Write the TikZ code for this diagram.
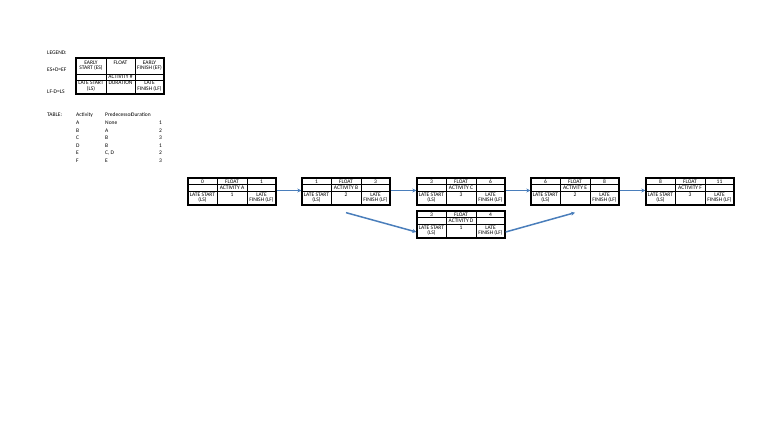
\documentclass[tikz,border=0pt]{standalone}
\usepackage{fontspec}
\setmainfont{Carlito}
\usetikzlibrary{arrows.meta,calc}
\definecolor{linkc}{HTML}{4A7EBB}
\tikzset{
  cellframe/.style={draw, line width=1.3pt, minimum width=88pt, minimum height=27pt,
              inner sep=0pt},
  rule/.style={line width=0.6pt},
  celltext/.style={font=\fontsize{5.5}{5.6}\selectfont, inner sep=0pt, align=center},
  lbl/.style={font=\fontsize{5.5}{6}\selectfont, inner sep=0pt, anchor=west},
  flow/.style={draw=linkc, line width=1.5pt, -{Stealth[length=4pt,width=4pt]}},
}
% one activity card: name, left x, top y, ES, EF, letter, duration
\newcommand{\actbox}[7]{%
  \begin{scope}[shift={(#2,#3)}]
    \draw[rule] (0,6.5) -- (88,6.5) (0,13.5) -- (88,13.5)
                (29,0) -- (29,27) (59,0) -- (59,27);
    \node[cellframe] (#1) at (44,13.5) {};
    \node[celltext] at (14.5,3.4) {#4};
    \node[celltext] at (44,3.4) {FLOAT};
    \node[celltext] at (73.5,3.4) {#5};
    \node[celltext] at (44,10.2) {ACTIVITY #6};
    \node[celltext, anchor=north] at (14.5,14.4) {LATE START\\(LS)};
    \node[celltext, anchor=north] at (44,14.4) {#7};
    \node[celltext, anchor=north] at (73.5,14.4) {LATE\\FINISH (LF)};
  \end{scope}}

\begin{document}
\begin{tikzpicture}[x=1pt, y=-1pt]
\useasboundingbox (0,0) rectangle (784,441);

% legend
\node[lbl] (legendtitle) at (47,53) {LEGEND:};
\node[lbl] (esrule) at (47,70) {ES+D=EF};
\node[lbl] (lfrule) at (47,92) {LF-D=LS};
\begin{scope}[shift={(76,58)}]
  \draw[rule] (0,16) -- (88,16) (0,22) -- (88,22) (30,0) -- (30,36) (59,0) -- (59,36);
  \node[cellframe, minimum height=36pt] (legend) at (44,18) {};
  \node[celltext, anchor=north] at (15,2.5) {EARLY\\START (ES)};
  \node[celltext, anchor=north] at (44.5,2.5) {FLOAT};
  \node[celltext, anchor=north] at (73.5,2.5) {EARLY\\FINISH (EF)};
  \node[celltext] at (44.5,19) {ACTIVITY \#};
  \node[celltext, anchor=north] at (15,23) {LATE START\\(LS)};
  \node[celltext, anchor=north] at (44.5,23) {DURATION};
  \node[celltext, anchor=north] at (73.5,23) {LATE\\FINISH (LF)};
\end{scope}

% table
\node[lbl] (tabletitle) at (47,115) {TABLE:};
\node[lbl] (hact) at (76,115) {Activity};
\node[lbl] (hpre) at (105,115) {Predecessor};
\node[lbl] (hdur) at (131,115) {Duration};
\foreach \act/\pre/\dur [count=\i] in {A/None/1, B/A/2, C/B/3, D/B/1, E/{C, D}/2, F/E/3}{
  \node[lbl] at (76,{115.5+7.5*\i}) {\act};
  \node[lbl] at (105,{115.5+7.5*\i}) {\pre};
  \node[lbl, anchor=east] at (162,{115.5+7.5*\i}) {\dur};
}

% network
\actbox{A}{188}{178}{0}{1}{A}{1}
\actbox{B}{302}{178}{1}{3}{B}{2}
\actbox{C}{417}{178}{3}{6}{C}{3}
\actbox{E}{531}{178}{6}{8}{E}{2}
\actbox{F}{646}{178}{8}{11}{F}{3}
\actbox{D}{417}{211}{3}{4}{D}{1}

\coordinate (bout) at ($(B.south)+(0,7)$);
\coordinate (din) at ($(D.west)+(0,7.5)$);
\coordinate (dout) at ($(D.east)+(0,7.5)$);
\coordinate (ein) at ($(E.south)+(0,7)$);

\draw[flow] ([yshift=1pt]A.east) -- ([yshift=1pt]B.west);
\draw[flow] ([yshift=1pt]B.east) -- ([yshift=1pt]C.west);
\draw[flow] ([yshift=1pt]C.east) -- ([yshift=1pt]E.west);
\draw[flow] ([yshift=1pt]E.east) -- ([yshift=1pt]F.west);
\draw[flow] (bout) -- (din);
\draw[flow] (dout) -- (ein);
\end{tikzpicture}
\end{document}
